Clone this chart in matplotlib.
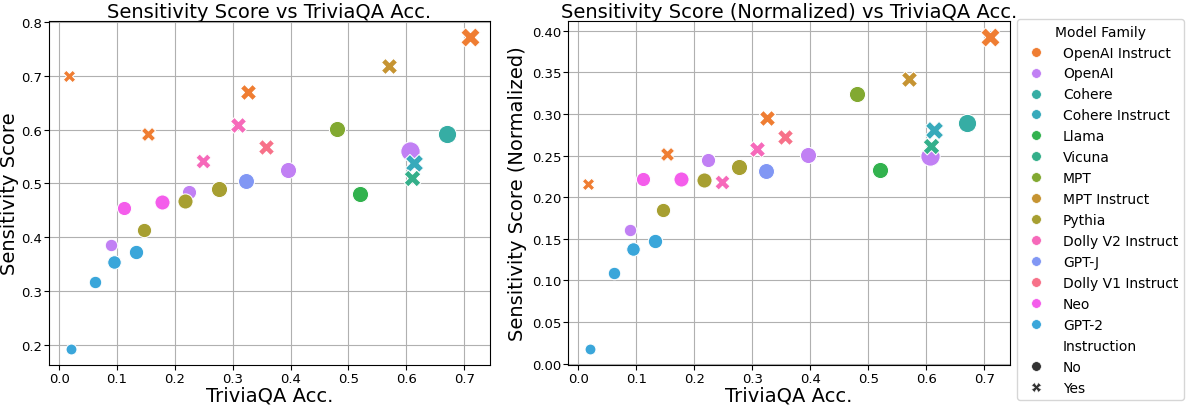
import numpy as np
import seaborn as sns
from matplotlib import pyplot as plt
from matplotlib.lines import Line2D

# Data
family = ["GPT-2", "GPT-2", "GPT-2", "GPT-2",
          "OpenAI", "OpenAI", "OpenAI", "OpenAI",
          "Pythia", "Pythia", "Pythia",
          "Neo", "Neo", "GPT-J", "MPT", "Llama", "Cohere",
          "Cohere Instruct", "Vicuna",
          "OpenAI Instruct", "OpenAI Instruct", "OpenAI Instruct", "OpenAI Instruct",
          "MPT Instruct", "Dolly V2 Instruct", "Dolly V2 Instruct", "Dolly V1 Instruct"]
instruct = ["No"] * 17 + ["Yes"] * 10
trivia_acc = [0.020, 0.062, 0.094, 0.133,
              0.090, 0.224, 0.396, 0.606,
              0.147, 0.217, 0.277,
              0.112, 0.178, 0.323, 0.480, 0.520, 0.670,
              0.613, 0.609,
              0.710, 0.326, 0.153, 0.017,
              0.570, 0.309, 0.248, 0.357]
sens_score = [0.191, 0.317, 0.353, 0.372,
              0.386, 0.484, 0.524, 0.561,
              0.413, 0.467, 0.490,
              0.454, 0.466, 0.504, 0.602, 0.481, 0.591,
              0.537, 0.510,
              0.773, 0.670, 0.592, 0.700,
              0.718, 0.609, 0.541, 0.567]
sens_norm = [0.017, 0.109, 0.138, 0.147,
             0.160, 0.245, 0.251, 0.250,
             0.184, 0.221, 0.236,
             0.222, 0.222, 0.232, 0.324, 0.233, 0.289,
             0.281, 0.261,
             0.393, 0.295, 0.252, 0.216,
             0.342, 0.258, 0.218, 0.272]
# model size in billions of parameters (drives marker size)
params_b = [0.124, 0.355, 0.774, 1.5,
            0.35, 1.3, 6.7, 175,
            1.4, 2.8, 6.9,
            1.3, 2.7, 6.0, 7.0, 7.0, 52,
            52, 13,
            175, 6.7, 1.3, 0.35,
            7.0, 7.0, 3.0, 6.0]

family_order = ["OpenAI Instruct", "OpenAI", "Cohere", "Cohere Instruct", "Llama",
                "Vicuna", "MPT", "MPT Instruct", "Pythia", "Dolly V2 Instruct",
                "GPT-J", "Dolly V1 Instruct", "Neo", "GPT-2"]

pal = sns.husl_palette(14)
pal_idx = [1, 11, 7, 8, 5, 6, 4, 2, 3, 13, 10, 0, 12, 9]
colors = {f: pal[i] for f, i in zip(family_order, pal_idx)}
markers = {"No": "o", "Yes": "X"}

# size scale (log of params)
lp = np.log10(params_b)
frac = (lp - lp.min()) / (lp.max() - lp.min())
sizes = 62 + frac * (195 - 62)

fig = plt.figure(figsize=(11.89, 4.06), dpi=100)
ax1 = fig.add_axes([0.0412, 0.0985, 0.3709, 0.8473])
ax2 = fig.add_axes([0.4777, 0.0985, 0.3718, 0.8473])

for ax, yvals, title, ylabel, lpad in [
        (ax1, sens_score, "Sensitivity Score vs TriviaQA Acc.", "Sensitivity Score", 2),
        (ax2, sens_norm, "Sensitivity Score (Normalized) vs TriviaQA Acc.",
         "Sensitivity Score (Normalized)", 3.5)]:
    for i in range(len(trivia_acc)):
        ax.scatter(trivia_acc[i], yvals[i], s=sizes[i], c=[colors[family[i]]],
                   marker=markers[instruct[i]], edgecolors="white", linewidths=0.75)
    ax.set_axisbelow(True)
    ax.grid(True)
    ax.set_title(title, fontsize=14, pad=2)
    ax.set_xlabel("TriviaQA Acc.", fontsize=14, labelpad=1)
    ax.set_ylabel(ylabel, fontsize=14, labelpad=lpad)
    ax.tick_params(labelsize=9.5, pad=1.2)

ax1.set_xticks(np.arange(0, 0.71, 0.1))
ax2.set_xticks(np.arange(0, 0.71, 0.1))
ax1.set_yticks(np.arange(0.2, 0.81, 0.1))
ax2.set_yticks(np.arange(0, 0.41, 0.05))

# Legend, seaborn style
handles = [Line2D([], [], linestyle="", marker="o", markersize=7, color=colors[f],
                  markeredgecolor="white", markeredgewidth=0.5) for f in family_order]
labels = list(family_order)
handles.append(Line2D([], [], linestyle="", marker=""))
labels.append("Instruction")
for k in ["No", "Yes"]:
    handles.append(Line2D([], [], linestyle="", marker=markers[k], markersize=7,
                          color=".2", markeredgecolor="white", markeredgewidth=0.5))
    labels.append(k)

fig.legend(handles, labels, title="Model Family", loc="upper left",
           bbox_to_anchor=(0.8553, 0.9507), borderaxespad=0,
           fontsize=10, title_fontsize=10, handletextpad=0.9)

fig.savefig("out.png", dpi=100)
